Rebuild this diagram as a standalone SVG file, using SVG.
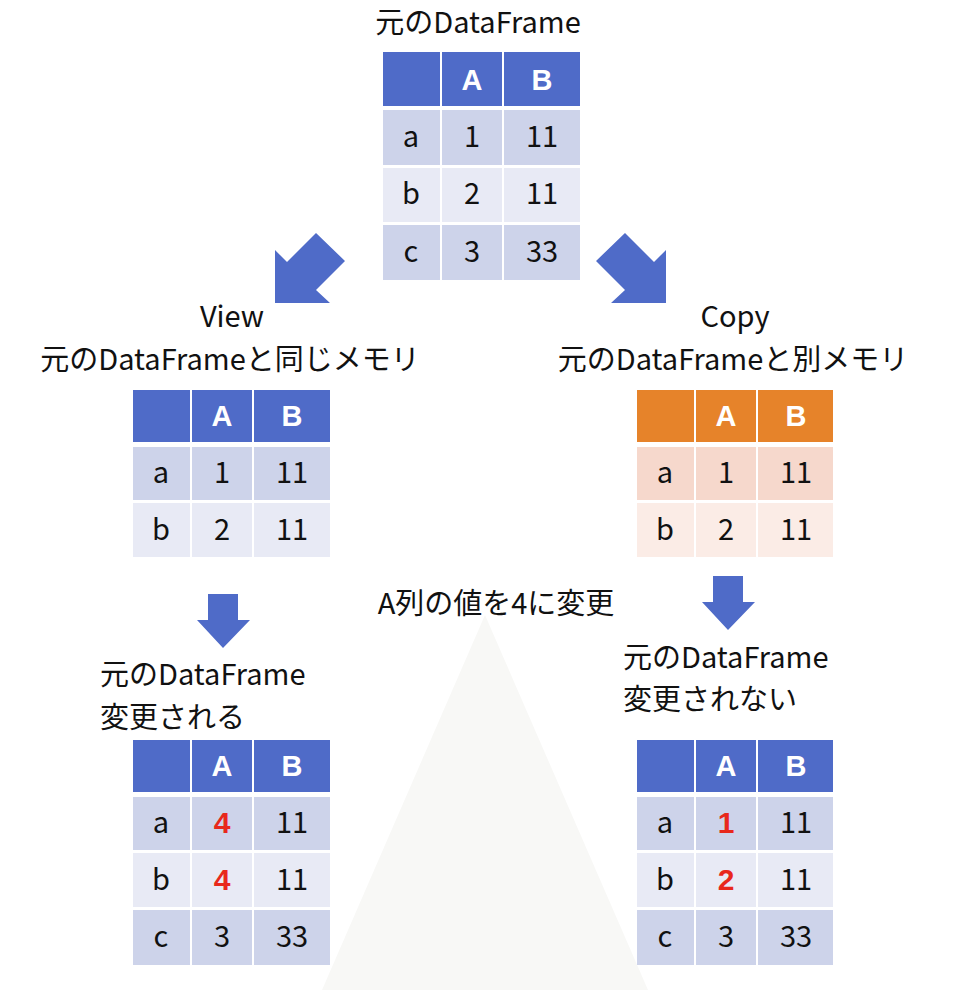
<svg xmlns="http://www.w3.org/2000/svg" width="957" height="990" viewBox="0 0 957 990">
<style>
.t{font-family:"Noto Sans CJK JP","Noto Sans",sans-serif;font-size:29px;fill:#111}
.c{font-family:"Noto Sans CJK JP","Noto Sans",sans-serif;font-size:29px;fill:#111;text-anchor:middle}
.h{font-family:"Liberation Sans",Arial,sans-serif;font-size:29px;font-weight:bold;fill:#fff;text-anchor:middle}
.r{font-family:"Liberation Sans",Arial,sans-serif;font-size:30px;font-weight:bold;fill:#e8281c;text-anchor:middle}
.hb{fill:#4f6bc8}.ra{fill:#cdd3ea}.rb{fill:#e8eaf5}
.ho{fill:#e6832a}.oa{fill:#f6d8cc}.ob{fill:#fbece6}
.ar{fill:#4f6bc8}
</style>
<rect width="957" height="990" fill="#fff"/>
<polygon points="485,615 322,990 648,990" fill="#f8f8f6"/>
<g id="connectors">
<polygon class="ar" points="275,250 287,262 316,233 345,261 316,290 330,303 275,303"/>
<polygon class="ar" points="666,250 654,262 625,233 596,261 625,290 611,303 666,303"/>
<polygon class="ar" points="208,594 238,594 238,620 250,620 223,648 197,620 208,620"/>
<polygon class="ar" points="713,576 743,576 743,602 755,602 728,630 702,602 713,602"/>
</g>
<g id="labels">
<text class="c" x="478" y="33">元のDataFrame</text>
<text class="c" x="232" y="327">View</text>
<text class="c" x="230" y="370">元のDataFrameと同じメモリ</text>
<text class="c" x="735" y="327">Copy</text>
<text class="c" x="733" y="370">元のDataFrameと別メモリ</text>
<text class="c" x="496" y="614">A列の値を4に変更</text>
<text class="t" x="100" y="685">元のDataFrame</text>
<text class="t" x="100" y="728">変更される</text>
<text class="t" x="623" y="668">元のDataFrame</text>
<text class="t" x="623" y="710">変更されない</text>
</g>
<g id="table-original">
<rect class="hb" x="383" y="52" width="57" height="54"/><rect class="hb" x="442" y="52" width="60" height="54"/><rect class="hb" x="504" y="52" width="76" height="54"/>
<rect class="ra" x="383" y="110" width="57" height="55"/><rect class="ra" x="442" y="110" width="60" height="55"/><rect class="ra" x="504" y="110" width="76" height="55"/>
<rect class="rb" x="383" y="168" width="57" height="54"/><rect class="rb" x="442" y="168" width="60" height="54"/><rect class="rb" x="504" y="168" width="76" height="54"/>
<rect class="ra" x="383" y="225" width="57" height="55"/><rect class="ra" x="442" y="225" width="60" height="55"/><rect class="ra" x="504" y="225" width="76" height="55"/>
<text class="h" x="472" y="90">A</text><text class="h" x="542" y="90">B</text>
<text class="c" x="411" y="147">a</text><text class="c" x="472" y="147">1</text><text class="c" x="542" y="147">11</text>
<text class="c" x="411" y="204">b</text><text class="c" x="472" y="204">2</text><text class="c" x="542" y="204">11</text>
<text class="c" x="411" y="262">c</text><text class="c" x="472" y="262">3</text><text class="c" x="542" y="262">33</text>
</g>
<g id="table-view">
<rect class="hb" x="133" y="390" width="57" height="52"/><rect class="hb" x="192" y="390" width="60" height="52"/><rect class="hb" x="254" y="390" width="76" height="52"/>
<rect class="ra" x="133" y="447" width="57" height="53"/><rect class="ra" x="192" y="447" width="60" height="53"/><rect class="ra" x="254" y="447" width="76" height="53"/>
<rect class="rb" x="133" y="503" width="57" height="54"/><rect class="rb" x="192" y="503" width="60" height="54"/><rect class="rb" x="254" y="503" width="76" height="54"/>
<text class="h" x="222" y="426">A</text><text class="h" x="292" y="426">B</text>
<text class="c" x="161" y="483">a</text><text class="c" x="222" y="483">1</text><text class="c" x="292" y="483">11</text>
<text class="c" x="161" y="540">b</text><text class="c" x="222" y="540">2</text><text class="c" x="292" y="540">11</text>
</g>
<g id="table-copy">
<rect class="ho" x="637" y="390" width="57" height="52"/><rect class="ho" x="696" y="390" width="60" height="52"/><rect class="ho" x="758" y="390" width="75" height="52"/>
<rect class="oa" x="637" y="447" width="57" height="53"/><rect class="oa" x="696" y="447" width="60" height="53"/><rect class="oa" x="758" y="447" width="75" height="53"/>
<rect class="ob" x="637" y="503" width="57" height="54"/><rect class="ob" x="696" y="503" width="60" height="54"/><rect class="ob" x="758" y="503" width="75" height="54"/>
<text class="h" x="726" y="426">A</text><text class="h" x="796" y="426">B</text>
<text class="c" x="665" y="483">a</text><text class="c" x="726" y="483">1</text><text class="c" x="796" y="483">11</text>
<text class="c" x="665" y="540">b</text><text class="c" x="726" y="540">2</text><text class="c" x="796" y="540">11</text>
</g>
<g id="table-result-view">
<rect class="hb" x="133" y="740" width="57" height="52"/><rect class="hb" x="192" y="740" width="60" height="52"/><rect class="hb" x="254" y="740" width="76" height="52"/>
<rect class="ra" x="133" y="797" width="57" height="53"/><rect class="ra" x="192" y="797" width="60" height="53"/><rect class="ra" x="254" y="797" width="76" height="53"/>
<rect class="rb" x="133" y="853" width="57" height="54"/><rect class="rb" x="192" y="853" width="60" height="54"/><rect class="rb" x="254" y="853" width="76" height="54"/>
<rect class="ra" x="133" y="910" width="57" height="55"/><rect class="ra" x="192" y="910" width="60" height="55"/><rect class="ra" x="254" y="910" width="76" height="55"/>
<text class="h" x="222" y="776">A</text><text class="h" x="292" y="776">B</text>
<text class="c" x="161" y="833">a</text><text class="r" x="222" y="833">4</text><text class="c" x="292" y="833">11</text>
<text class="c" x="161" y="890">b</text><text class="r" x="222" y="890">4</text><text class="c" x="292" y="890">11</text>
<text class="c" x="161" y="947">c</text><text class="c" x="222" y="947">3</text><text class="c" x="292" y="947">33</text>
</g>
<g id="table-result-copy">
<rect class="hb" x="637" y="740" width="57" height="52"/><rect class="hb" x="696" y="740" width="60" height="52"/><rect class="hb" x="758" y="740" width="75" height="52"/>
<rect class="ra" x="637" y="797" width="57" height="53"/><rect class="ra" x="696" y="797" width="60" height="53"/><rect class="ra" x="758" y="797" width="75" height="53"/>
<rect class="rb" x="637" y="853" width="57" height="54"/><rect class="rb" x="696" y="853" width="60" height="54"/><rect class="rb" x="758" y="853" width="75" height="54"/>
<rect class="ra" x="637" y="910" width="57" height="55"/><rect class="ra" x="696" y="910" width="60" height="55"/><rect class="ra" x="758" y="910" width="75" height="55"/>
<text class="h" x="726" y="776">A</text><text class="h" x="796" y="776">B</text>
<text class="c" x="665" y="833">a</text><text class="r" x="726" y="833">1</text><text class="c" x="796" y="833">11</text>
<text class="c" x="665" y="890">b</text><text class="r" x="726" y="890">2</text><text class="c" x="796" y="890">11</text>
<text class="c" x="665" y="947">c</text><text class="c" x="726" y="947">3</text><text class="c" x="796" y="947">33</text>
</g>
</svg>
